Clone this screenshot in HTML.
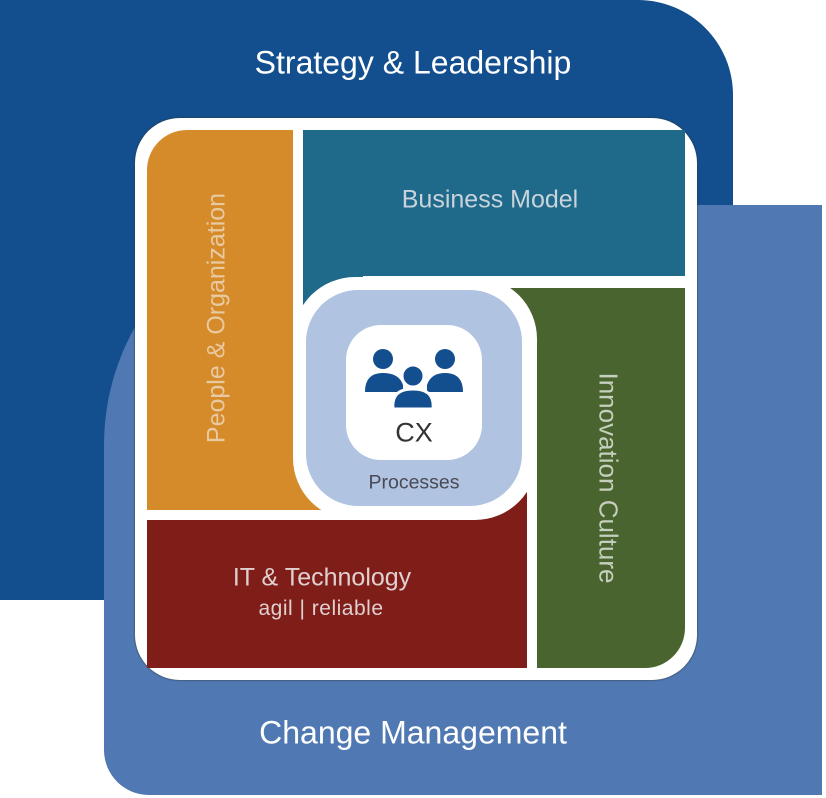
<!DOCTYPE html>
<html><head><style>
body{margin:0;width:826px;height:798px;background:#fff;position:relative;overflow:hidden;font-family:"Liberation Sans",sans-serif}
div{position:absolute;box-sizing:border-box}
.t{white-space:nowrap;transform:translate(-50%,-50%)}
</style></head><body>
<div style="left:0;top:0;width:733px;height:600px;background:#134f8f;border-top-right-radius:95px"></div>
<div style="left:104px;top:205px;width:718px;height:590px;background:#5079b3;border-top-left-radius:240px;border-bottom-left-radius:45px"></div>
<div style="left:135px;top:118px;width:562px;height:562px;background:#fff;border-radius:45px;box-shadow:0 0 2px #333"></div>
<div style="left:147px;top:130px;width:146px;height:380px;background:#d68b2a;border-top-left-radius:40px"></div>
<div style="left:260px;top:400px;width:70px;height:110px;background:#d68b2a"></div>
<div style="left:303px;top:130px;width:382px;height:146px;background:#1f6a8a"></div>
<div style="left:303px;top:250px;width:60px;height:70px;background:#1f6a8a"></div>
<div style="left:537px;top:288px;width:148px;height:380px;background:#4a6430;border-bottom-right-radius:40px"></div>
<div style="left:480px;top:288px;width:100px;height:60px;background:#4a6430"></div>
<div style="left:147px;top:520px;width:380px;height:148px;background:#7f1d18"></div>
<div style="left:430px;top:470px;width:97px;height:80px;background:#7f1d18"></div>
<div style="left:293px;top:277px;width:244px;height:243px;background:#fff;border-radius:62px"></div>
<div style="left:306px;top:290px;width:216px;height:216px;background:#b0c3e0;border-radius:52px"></div>
<div style="left:346px;top:325px;width:136px;height:135px;background:#fff;border-radius:35px"></div>
<svg style="position:absolute;left:363px;top:347px" width="104" height="62" viewBox="0 0 104 62">
<g fill="#134f8f"><circle cx="20" cy="12" r="10"/><circle cx="82" cy="12" r="10"/>
<path d="M2 45 Q2 26 20 26 Q36 26 40 38 L40 45Z"/><path d="M64 38 Q68 26 82 26 Q100 26 100 45 L64 45Z"/>
<circle cx="50" cy="29" r="11" stroke="#fff" stroke-width="3"/><path d="M30 62 Q28 42 50 42 Q72 42 70 62Z" stroke="#fff" stroke-width="3"/></g></svg>
<div class="t" style="left:413px;top:63px;color:#fff;font-size:32px">Strategy &amp; Leadership</div>
<div class="t" style="left:413px;top:733px;color:#fff;font-size:32px">Change Management</div>
<div class="t" style="left:490px;top:200px;color:#c9d3dc;font-size:25px">Business Model</div>
<div class="t" style="left:217px;top:318px;color:#e8c9a0;font-size:25px;transform:translate(-50%,-50%) rotate(-90deg)">People &amp; Organization</div>
<div class="t" style="left:608px;top:478px;color:#c5cfbd;font-size:26px;transform:translate(-50%,-50%) rotate(90deg)">Innovation Culture</div>
<div class="t" style="left:322px;top:578px;color:#e0d0d0;font-size:25px">IT &amp; Technology</div>
<div class="t" style="left:321px;top:609px;color:#e0d0d0;font-size:21px;letter-spacing:0.5px">agil | reliable</div>
<div class="t" style="left:414px;top:433px;color:#333;font-size:27px">CX</div>
<div class="t" style="left:414px;top:483px;color:#4a4a55;font-size:19.5px">Processes</div>
</body></html>
